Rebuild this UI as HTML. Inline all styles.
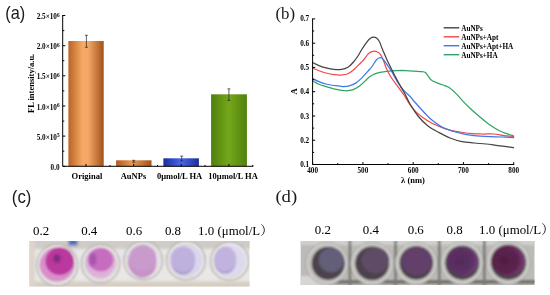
<!DOCTYPE html>
<html><head><meta charset="utf-8"><title>Figure</title>
<style>
html,body{margin:0;padding:0;background:#fff;}
svg{display:block;}
text{font-family:"Liberation Serif","Noto Serif CJK SC",serif;fill:#000;}
.b{font-weight:bold;}
.lab{font-family:"Liberation Sans",sans-serif;font-size:17.8px;fill:#1a1a1a;}
.labs{font-size:17.4px;fill:#1a1a1a;}
.tk{font-size:7.2px;font-weight:bold;}
.xl{font-size:8.5px;font-weight:bold;}
.conc{font-size:12.9px;}
</style></head><body>
<svg width="550" height="295" viewBox="0 0 550 295">
<defs>
<linearGradient id="gO" x1="0" x2="1" y1="0" y2="0"><stop offset="0" stop-color="#ba6224"/><stop offset="0.4" stop-color="#f5a966"/><stop offset="0.55" stop-color="#f5a966"/><stop offset="1" stop-color="#a3521a"/></linearGradient>
<linearGradient id="gO2" x1="0" x2="1" y1="0" y2="0"><stop offset="0" stop-color="#b25a1c"/><stop offset="0.45" stop-color="#ec9850"/><stop offset="1" stop-color="#a3521a"/></linearGradient>
<linearGradient id="gB" x1="0" x2="1" y1="0" y2="0"><stop offset="0" stop-color="#1c2b9c"/><stop offset="0.5" stop-color="#4a68ea"/><stop offset="1" stop-color="#1c2b9c"/></linearGradient>
<linearGradient id="gG" x1="0" x2="1" y1="0" y2="0"><stop offset="0" stop-color="#50800d"/><stop offset="0.5" stop-color="#74a81b"/><stop offset="1" stop-color="#50800d"/></linearGradient>
<filter id="bl1" x="-20%" y="-20%" width="140%" height="140%"><feGaussianBlur stdDeviation="0.8"/></filter>
<filter id="bl2" x="-20%" y="-20%" width="140%" height="140%"><feGaussianBlur stdDeviation="1.6"/></filter>
<clipPath id="cc"><rect x="29.3" y="240.9" width="220.2" height="45.6"/></clipPath>
<clipPath id="cd"><rect x="300.7" y="241.1" width="233.8" height="43.9"/></clipPath>
<radialGradient id="rd4" cx="0.4" cy="0.5" r="0.62"><stop offset="0" stop-color="#552a5c"/><stop offset="0.7" stop-color="#5c3163"/><stop offset="1" stop-color="#77497f"/></radialGradient>
<radialGradient id="rd5" cx="0.38" cy="0.5" r="0.64"><stop offset="0" stop-color="#501d45"/><stop offset="0.65" stop-color="#5c244f"/><stop offset="1" stop-color="#804179"/></radialGradient>
<linearGradient id="fadeR" x1="0" x2="1" y1="0" y2="0"><stop offset="0" stop-color="#fff" stop-opacity="0"/><stop offset="1" stop-color="#fff" stop-opacity="1"/></linearGradient>
</defs>
<rect width="550" height="295" fill="#fff"/>

<text class="lab" x="5.3" y="18.9" textLength="20" lengthAdjust="spacingAndGlyphs">(a)</text>
<text class="labs" x="275.4" y="19.1" textLength="19.6" lengthAdjust="spacingAndGlyphs">(b)</text>
<text class="lab" x="11.8" y="202.7" textLength="19.6" lengthAdjust="spacingAndGlyphs">(c)</text>
<text class="labs" x="275.4" y="202" textLength="21.8" lengthAdjust="spacingAndGlyphs">(d)</text>
<rect x="68.4" y="41.0" width="35.3" height="125.3" fill="url(#gO)"/>
<rect x="116.1" y="160.3" width="35.4" height="6.0" fill="url(#gO2)"/>
<rect x="163.4" y="158.3" width="35.5" height="8.0" fill="url(#gB)"/>
<rect x="211.1" y="94.3" width="35.8" height="72.0" fill="url(#gG)"/>
<g stroke="#000" stroke-width="1" fill="none">
<path d="M62.7,15.0 V166.3 H253.3"/>
<path d="M62.7,166.3 h2.6"/>
<path d="M62.7,151.2 h1.6"/>
<path d="M62.7,136.1 h2.6"/>
<path d="M62.7,121.1 h1.6"/>
<path d="M62.7,106.0 h2.6"/>
<path d="M62.7,90.9 h1.6"/>
<path d="M62.7,75.8 h2.6"/>
<path d="M62.7,60.7 h1.6"/>
<path d="M62.7,45.7 h2.6"/>
<path d="M62.7,30.6 h1.6"/>
<path d="M62.7,15.5 h2.6"/>
<path d="M86.0,166.3 v-2.4"/>
<path d="M133.7,166.3 v-2.4"/>
<path d="M181.2,166.3 v-2.4"/>
<path d="M228.9,166.3 v-2.4"/>
<path d="M110.0,166.3 v-1.4"/>
<path d="M157.5,166.3 v-1.4"/>
<path d="M205.0,166.3 v-1.4"/>
<path d="M252.8,166.3 v-1.4"/>
</g>
<g stroke="#222" stroke-width="0.7" fill="none">
<path d="M86.4,35.3 V47.3 M84.9,35.3 h3 M84.9,47.3 h3"/>
<path d="M133.7,160.3 V162.2 M132.2,160.3 h3 M132.2,162.2 h3"/>
<path d="M181.7,156.1 V160.9 M180.2,156.1 h3 M180.2,160.9 h3"/>
<path d="M228.9,88.9 V100.4 M227.4,88.9 h3 M227.4,100.4 h3"/>
</g>
<text class="tk" text-anchor="end" x="59.6" y="169.8">0.0</text>
<text class="tk" text-anchor="end" x="59.6" y="139.6">5.0×10<tspan dy="-2.3" font-size="5.3">5</tspan></text>
<text class="tk" text-anchor="end" x="59.6" y="109.5">1.0×10<tspan dy="-2.3" font-size="5.3">6</tspan></text>
<text class="tk" text-anchor="end" x="59.6" y="79.3">1.5×10<tspan dy="-2.3" font-size="5.3">6</tspan></text>
<text class="tk" text-anchor="end" x="59.6" y="49.2">2.0×10<tspan dy="-2.3" font-size="5.3">6</tspan></text>
<text class="tk" text-anchor="end" x="59.6" y="19.0">2.5×10<tspan dy="-2.3" font-size="5.3">6</tspan></text>
<text class="xl" text-anchor="middle" transform="translate(34.0,83.4) rotate(-90)">FL intensity/a.u.</text>
<text class="xl" text-anchor="middle" x="86.9" y="179.0">Original</text>
<text class="xl" text-anchor="middle" x="133.5" y="179.0">AuNPs</text>
<text class="xl" text-anchor="middle" x="179.6" y="179.0">0μmol/L HA</text>
<text class="xl" text-anchor="middle" x="233.1" y="179.0">10μmol/L HA</text>
<g fill="none" stroke-width="1.25" stroke-linejoin="round" stroke-linecap="round">
<path stroke="#2fa565" d="M312.6,80.8 C313.6,81.3 316.1,83.0 318.3,84.0 C320.5,85.0 323.4,85.8 326.0,86.6 C328.6,87.4 331.2,88.2 333.8,88.8 C336.4,89.4 339.1,90.1 341.5,90.4 C343.9,90.7 345.8,90.9 347.9,90.7 C350.0,90.5 352.2,90.1 354.4,89.1 C356.5,88.1 358.6,86.6 360.8,84.9 C363.0,83.2 365.4,80.5 367.3,78.8 C369.2,77.1 370.6,76.0 372.4,75.0 C374.1,74.0 376.0,73.3 377.8,72.8 C379.6,72.3 381.0,72.1 383.3,71.8 C385.6,71.5 388.8,71.0 391.9,70.8 C395.0,70.6 398.5,70.4 402.1,70.4 C405.7,70.5 410.3,70.9 413.7,71.1 C417.1,71.3 420.6,71.3 422.5,71.6 C424.4,71.8 424.4,71.8 425.4,72.6 C426.4,73.4 427.3,75.0 428.3,76.2 C429.3,77.4 429.7,78.8 431.2,79.9 C432.7,81.0 435.2,82.0 437.1,82.8 C439.1,83.6 441.0,84.3 442.9,85.0 C444.8,85.7 446.2,85.7 448.3,87.0 C450.4,88.3 453.2,90.8 455.6,93.1 C458.0,95.4 460.5,98.6 462.9,101.1 C465.3,103.6 467.1,105.5 470.0,108.2 C472.9,110.9 476.7,114.2 480.0,117.0 C483.3,119.8 486.7,122.7 490.0,125.0 C493.3,127.3 496.1,129.2 500.0,131.0 C503.9,132.8 511.3,135.2 513.6,136.0"/>
<path stroke="#f0484a" d="M312.6,68.0 C313.6,68.4 316.1,69.7 318.3,70.5 C320.5,71.3 323.4,72.3 326.0,73.0 C328.6,73.7 331.2,74.3 333.8,74.6 C336.4,74.9 339.1,75.2 341.5,75.0 C343.9,74.8 345.8,74.7 347.9,73.7 C350.0,72.7 352.2,71.0 354.4,69.2 C356.5,67.4 359.2,64.3 360.8,62.7 C362.4,61.1 362.7,61.0 364.0,59.5 C365.3,58.0 366.9,54.9 368.6,53.5 C370.3,52.1 372.5,51.4 374.1,51.2 C375.7,51.0 376.9,51.8 378.0,52.3 C379.1,52.8 379.6,53.3 380.5,54.5 C381.4,55.7 382.2,57.3 383.1,59.5 C384.0,61.7 384.8,64.7 386.0,67.5 C387.2,70.3 388.7,73.4 390.4,76.2 C392.1,79.0 394.2,81.6 396.2,84.3 C398.1,87.0 400.7,90.3 402.1,92.3 C403.5,94.2 403.2,93.8 404.6,96.0 C406.0,98.2 408.5,102.5 410.4,105.2 C412.3,107.9 414.0,110.0 416.2,112.1 C418.4,114.2 420.9,116.1 423.5,117.9 C426.1,119.7 429.4,121.8 431.5,123.0 C433.6,124.2 433.2,123.9 436.0,125.0 C438.8,126.1 444.0,128.4 448.0,129.6 C452.0,130.8 456.0,131.3 460.0,132.0 C464.0,132.7 468.3,133.3 472.0,133.6 C475.7,133.9 478.3,133.9 482.0,134.0 C485.7,134.1 490.3,133.7 494.0,134.0 C497.7,134.3 500.7,135.2 504.0,135.6 C507.3,136.0 512.0,136.4 513.6,136.6"/>
<path stroke="#3b78ee" d="M312.6,78.5 C313.6,79.0 316.1,80.5 318.3,81.4 C320.5,82.3 323.4,83.3 326.0,84.0 C328.6,84.7 331.0,85.1 333.8,85.5 C336.6,85.9 340.2,86.5 342.8,86.6 C345.4,86.7 347.1,86.5 349.2,85.9 C351.3,85.3 353.5,84.5 355.7,83.1 C357.9,81.7 360.0,79.7 362.1,77.6 C364.2,75.5 366.9,72.4 368.6,70.5 C370.3,68.6 371.2,67.7 372.4,66.0 C373.6,64.3 374.8,61.8 375.9,60.5 C376.9,59.2 377.7,58.4 378.7,58.0 C379.7,57.6 380.9,57.7 381.7,58.0 C382.5,58.3 382.8,59.1 383.5,60.0 C384.2,60.9 384.6,61.1 386.0,63.1 C387.4,65.1 389.9,68.7 391.9,71.9 C393.9,75.1 395.9,79.5 397.8,82.5 C399.7,85.5 401.4,87.7 403.5,90.1 C405.6,92.5 408.8,95.1 410.4,96.8 C412.0,98.5 411.5,98.3 413.0,100.0 C414.5,101.7 417.7,105.3 419.2,107.0 C420.7,108.7 420.6,108.4 422.0,110.0 C423.4,111.6 426.2,114.7 427.9,116.4 C429.6,118.1 429.6,118.2 432.0,120.0 C434.4,121.8 438.7,125.2 442.0,127.0 C445.3,128.8 448.7,129.9 452.0,131.0 C455.3,132.1 458.3,132.8 462.0,133.6 C465.7,134.4 469.3,135.1 474.0,135.6 C478.7,136.1 485.3,136.4 490.0,136.6 C494.7,136.8 498.1,136.8 502.0,137.0 C505.9,137.2 511.7,137.5 513.6,137.6"/>
<path stroke="#444" d="M312.6,62.5 C313.6,63.0 316.1,64.4 318.3,65.3 C320.5,66.2 323.4,67.2 326.0,67.9 C328.6,68.6 331.2,69.2 333.8,69.4 C336.4,69.7 339.1,69.8 341.5,69.4 C343.9,69.0 345.9,68.4 347.9,67.2 C349.9,66.0 351.8,64.0 353.5,62.0 C355.2,60.0 357.0,57.5 358.3,55.5 C359.6,53.5 359.9,52.5 361.3,50.2 C362.7,48.0 365.3,44.0 366.8,42.0 C368.3,40.0 369.2,39.1 370.4,38.3 C371.5,37.5 372.6,37.2 373.7,37.2 C374.8,37.2 375.8,37.5 376.8,38.3 C377.8,39.1 378.7,40.1 379.6,42.0 C380.6,43.9 381.2,46.5 382.5,49.5 C383.8,52.5 385.6,56.8 387.2,60.2 C388.8,63.6 390.5,67.0 392.0,70.0 C393.5,73.0 394.8,75.7 396.2,78.4 C397.6,81.1 399.2,83.9 400.6,86.4 C402.0,88.9 403.2,90.6 404.8,93.5 C406.4,96.4 407.8,100.2 410.0,104.0 C412.2,107.8 415.0,112.3 418.0,116.0 C421.0,119.7 424.7,123.3 428.0,126.0 C431.3,128.7 434.3,130.0 438.0,132.0 C441.7,134.0 446.0,136.4 450.0,138.0 C454.0,139.6 458.0,140.8 462.0,141.6 C466.0,142.4 470.0,142.6 474.0,143.0 C478.0,143.4 482.0,143.6 486.0,144.0 C490.0,144.4 493.4,145.0 498.0,145.6 C502.6,146.2 511.0,147.3 513.6,147.6"/>
</g>
<g stroke="#000" stroke-width="1" fill="none">
<path d="M312.6,18.4 V164.5 H514.2"/>
<path d="M312.6,164.5 h2.6"/>
<path d="M312.6,152.4 h1.6"/>
<path d="M312.6,140.2 h2.6"/>
<path d="M312.6,128.1 h1.6"/>
<path d="M312.6,116.0 h2.6"/>
<path d="M312.6,103.8 h1.6"/>
<path d="M312.6,91.7 h2.6"/>
<path d="M312.6,79.6 h1.6"/>
<path d="M312.6,67.4 h2.6"/>
<path d="M312.6,55.3 h1.6"/>
<path d="M312.6,43.2 h2.6"/>
<path d="M312.6,31.0 h1.6"/>
<path d="M312.6,18.9 h2.6"/>
<path d="M312.6,164.5 v-2.4"/>
<path d="M337.7,164.5 v-1.4"/>
<path d="M362.9,164.5 v-2.4"/>
<path d="M388.0,164.5 v-1.4"/>
<path d="M413.2,164.5 v-2.4"/>
<path d="M438.3,164.5 v-1.4"/>
<path d="M463.4,164.5 v-2.4"/>
<path d="M488.6,164.5 v-1.4"/>
<path d="M513.7,164.5 v-2.4"/>
</g>
<text class="tk" text-anchor="end" x="309.2" y="167.0">0.1</text>
<text class="tk" text-anchor="end" x="309.2" y="142.7">0.2</text>
<text class="tk" text-anchor="end" x="309.2" y="118.5">0.3</text>
<text class="tk" text-anchor="end" x="309.2" y="94.2">0.4</text>
<text class="tk" text-anchor="end" x="309.2" y="69.9">0.5</text>
<text class="tk" text-anchor="end" x="309.2" y="45.7">0.6</text>
<text class="tk" text-anchor="end" x="309.2" y="21.4">0.7</text>
<text class="tk" text-anchor="middle" x="312.6" y="172.8">400</text>
<text class="tk" text-anchor="middle" x="362.9" y="172.8">500</text>
<text class="tk" text-anchor="middle" x="413.2" y="172.8">600</text>
<text class="tk" text-anchor="middle" x="463.4" y="172.8">700</text>
<text class="tk" text-anchor="middle" x="513.7" y="172.8">800</text>
<text class="xl" text-anchor="middle" x="413" y="182.7">λ (nm)</text>
<text class="xl" text-anchor="middle" transform="translate(297.3,91.5) rotate(-90)">A</text>
<path d="M443.7,27.8 H459.3" stroke="#444" stroke-width="1.4" fill="none"/>
<text class="tk" x="461.2" y="30.8">AuNPs</text>
<path d="M443.7,36.8 H459.3" stroke="#f0484a" stroke-width="1.4" fill="none"/>
<text class="tk" x="461.2" y="39.8">AuNPs+Apt</text>
<path d="M443.7,45.7 H459.3" stroke="#3b78ee" stroke-width="1.4" fill="none"/>
<text class="tk" x="461.2" y="48.7">AuNPs+Apt+HA</text>
<path d="M443.7,54.7 H459.3" stroke="#2fa565" stroke-width="1.4" fill="none"/>
<text class="tk" x="461.2" y="57.7">AuNPs+HA</text>
<text class="conc" x="33.0" y="235.3">0.2</text>
<text class="conc" x="81.2" y="235.3">0.4</text>
<text class="conc" x="126.0" y="235.3">0.6</text>
<text class="conc" x="164.9" y="235.3">0.8</text>
<text class="conc" x="198.1" y="235.3">1.0 (μmol/L）</text>
<g clip-path="url(#cc)">
<rect x="29" y="240" width="222" height="48" fill="#e9e8e6"/>
<g filter="url(#bl2)">
<rect x="25" y="238" width="230" height="11" fill="#cfcbc6"/>
<rect x="25" y="281.5" width="230" height="9" fill="#d6cdc2"/>
<rect x="25" y="238" width="10" height="52" fill="#ddd4cb"/>
<rect x="68.5" y="239" width="9" height="6.5" fill="#4a6cc0"/>
</g>
<g filter="url(#bl1)">
<circle cx="57.2" cy="265.0" r="20.4" fill="#f4f3f3" stroke="#b1acaa" stroke-width="1.5"/>
<circle cx="57.2" cy="265.0" r="17.6" fill="none" stroke="#c4bec0" stroke-width="1"/>
<circle cx="100.6" cy="263.6" r="18.9" fill="#f4f3f3" stroke="#b1acaa" stroke-width="1.5"/>
<circle cx="100.6" cy="263.6" r="16.1" fill="none" stroke="#c4bec0" stroke-width="1"/>
<circle cx="143.2" cy="260.5" r="19.1" fill="#f4f3f3" stroke="#b1acaa" stroke-width="1.5"/>
<circle cx="143.2" cy="260.5" r="16.3" fill="none" stroke="#c4bec0" stroke-width="1"/>
<circle cx="185.9" cy="260.5" r="19.2" fill="#f4f3f3" stroke="#b1acaa" stroke-width="1.5"/>
<circle cx="185.9" cy="260.5" r="16.4" fill="none" stroke="#c4bec0" stroke-width="1"/>
<circle cx="229.6" cy="261.2" r="18.9" fill="#f4f3f3" stroke="#b1acaa" stroke-width="1.5"/>
<circle cx="229.6" cy="261.2" r="16.0" fill="none" stroke="#c4bec0" stroke-width="1"/>
<ellipse cx="57.0" cy="264.5" rx="17.4" ry="17.0" fill="#d98fc9"/>
<ellipse cx="59.7" cy="261.2" rx="14.2" ry="13.9" fill="#bb389e"/>
<ellipse cx="100.5" cy="262.8" rx="15.2" ry="15.6" fill="#deb0da"/>
<ellipse cx="100.8" cy="259.7" rx="12.5" ry="11.6" fill="#c76dbf"/>
<ellipse cx="142.4" cy="261.8" rx="14.4" ry="16.0" fill="#c693c7"/>
<ellipse cx="142.8" cy="257.9" rx="13.8" ry="13.0" fill="#c99bcd"/>
<ellipse cx="186.5" cy="260.5" rx="16.0" ry="15.5" fill="#dcd6ec"/>
<ellipse cx="183.0" cy="262.2" rx="11.6" ry="12.4" fill="#a999cf"/>
<ellipse cx="183.0" cy="259.4" rx="12.3" ry="12.9" fill="#bfb0dd"/>
<ellipse cx="230.0" cy="260.5" rx="16.0" ry="15.5" fill="#dedaee"/>
<ellipse cx="225.2" cy="261.7" rx="10.6" ry="12.0" fill="#ab9cd0"/>
<ellipse cx="225.2" cy="259.0" rx="11.2" ry="12.5" fill="#c1b3de"/>
</g>
<g filter="url(#bl2)">
<ellipse cx="56.8" cy="258.5" rx="3.6" ry="4.3" fill="#7f2b82"/>
<ellipse cx="92.8" cy="259.5" rx="3.4" ry="6.5" fill="#a553ab"/>
</g>
</g>
<text class="conc" x="314.8" y="233.8">0.2</text>
<text class="conc" x="362.8" y="233.8">0.4</text>
<text class="conc" x="407.7" y="233.8">0.6</text>
<text class="conc" x="446.5" y="233.8">0.8</text>
<text class="conc" x="479.1" y="233.8">1.0 (μmol/L）</text>
<g clip-path="url(#cd)">
<rect x="300" y="240" width="240" height="46" fill="#bcbbb7"/>
<g filter="url(#bl1)">
<rect x="298" y="238" width="244" height="7" fill="#cfcfcb"/>
<rect x="298" y="276" width="30" height="12" fill="#d6d6d2"/>
<rect x="330" y="280.2" width="212" height="3.4" fill="#6f6e6b"/>
<rect x="348.6" y="240" width="2.6" height="46" fill="#7b7a77"/>
<rect x="394.2" y="240" width="2.6" height="46" fill="#7b7a77"/>
<rect x="438.0" y="240" width="2.6" height="46" fill="#7b7a77"/>
<rect x="483.0" y="240" width="2.6" height="46" fill="#7b7a77"/>
<circle cx="327.0" cy="263.5" r="21.0" fill="#bfbeba" stroke="#8f8e8b" stroke-width="0.8"/>
<circle cx="327.0" cy="263.5" r="19.7" fill="none" stroke="#dddcd8" stroke-width="1.2"/>
<circle cx="328.2" cy="263.3" r="17.0" fill="#4b434b" stroke="#cfcecb" stroke-width="0.8"/>
<ellipse cx="331.2" cy="260.2" rx="12.6" ry="12.2" fill="#635f79"/>
<circle cx="372.0" cy="263.5" r="21.3" fill="#bfbeba" stroke="#8f8e8b" stroke-width="0.8"/>
<circle cx="372.0" cy="263.5" r="20.0" fill="none" stroke="#dddcd8" stroke-width="1.2"/>
<circle cx="372.2" cy="263.3" r="17.4" fill="#4b434b" stroke="#cfcecb" stroke-width="0.8"/>
<ellipse cx="375.5" cy="260.3" rx="13.7" ry="13.1" fill="#604b66"/>
<circle cx="416.0" cy="263.2" r="20.8" fill="#bfbeba" stroke="#8f8e8b" stroke-width="0.8"/>
<circle cx="416.0" cy="263.2" r="19.5" fill="none" stroke="#dddcd8" stroke-width="1.2"/>
<circle cx="416.3" cy="262.9" r="17.2" fill="#4b434b" stroke="#cfcecb" stroke-width="0.8"/>
<ellipse cx="417.0" cy="260.9" rx="15.4" ry="14.3" fill="#634069"/>
<circle cx="462.0" cy="263.0" r="21.1" fill="#bfbeba" stroke="#8f8e8b" stroke-width="0.8"/>
<circle cx="462.0" cy="263.0" r="19.8" fill="none" stroke="#dddcd8" stroke-width="1.2"/>
<circle cx="462.3" cy="262.7" r="17.5" fill="#4b434b" stroke="#cfcecb" stroke-width="0.8"/>
<ellipse cx="462.7" cy="260.9" rx="16.0" ry="14.6" fill="url(#rd4)"/>
<circle cx="508.2" cy="262.4" r="21.7" fill="#bfbeba" stroke="#8f8e8b" stroke-width="0.8"/>
<circle cx="508.2" cy="262.4" r="20.4" fill="none" stroke="#dddcd8" stroke-width="1.2"/>
<circle cx="508.4" cy="262.2" r="18.0" fill="#4b434b" stroke="#cfcecb" stroke-width="0.8"/>
<ellipse cx="508.3" cy="260.6" rx="16.6" ry="15.2" fill="url(#rd5)"/>
</g>
</g>
</svg>
</body></html>
